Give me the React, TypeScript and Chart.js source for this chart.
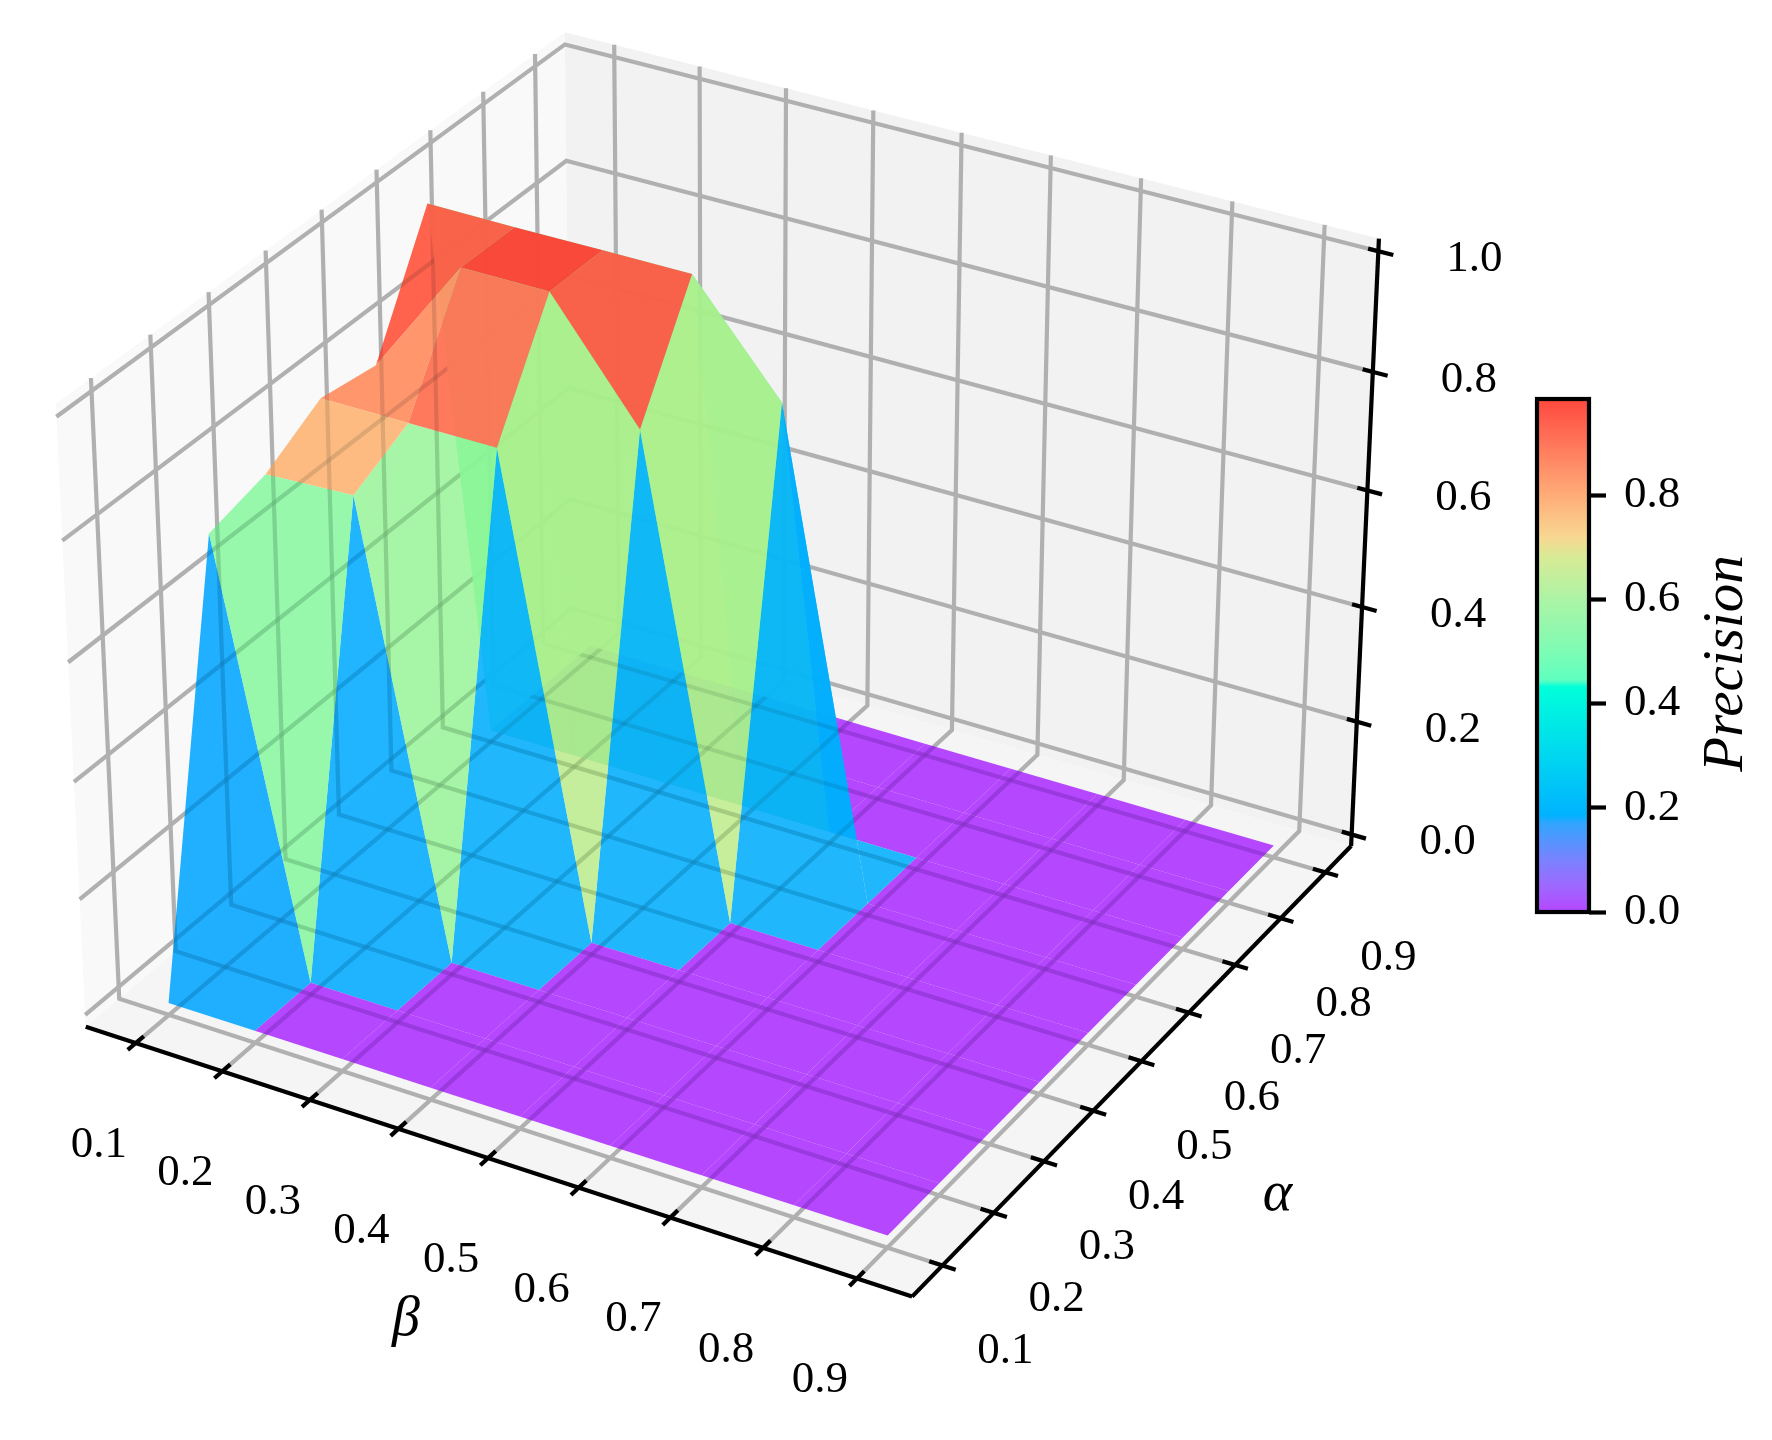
import React, { useEffect, useRef } from "react";
import { Chart, registerables } from "chart.js";

Chart.register(...registerables);

// ---------- data ----------
const betaValues = [0.1, 0.2, 0.3, 0.4, 0.5, 0.6, 0.7, 0.8, 0.9];
const alphaValues = [0.1, 0.2, 0.3, 0.4, 0.5, 0.6, 0.7, 0.8, 0.9];
const precisionAlpha1 = [0, 0, 0, 0, 0, 0, 0, 0, 0];
const precisionAlpha2 = [0.72, 0, 0, 0, 0, 0, 0, 0, 0];
const precisionAlpha3 = [0.745, 0.752, 0, 0, 0, 0, 0, 0, 0];
const precisionAlpha4 = [0.8, 0.8, 0.8, 0, 0, 0, 0, 0, 0];
const precisionAlpha5 = [0.785, 0.987, 0.987, 0.8, 0, 0, 0, 0, 0];
const precisionAlpha6 = [0.987, 0.986, 0.987, 0.987, 0.815, 0, 0, 0, 0];
const precisionAlpha7 = [0, 0, 0, 0, 0, 0, 0, 0, 0];
const precisionAlpha8 = [0, 0, 0, 0, 0, 0, 0, 0, 0];
const precisionAlpha9 = [0, 0, 0, 0, 0, 0, 0, 0, 0];
const precisionRows = [
  precisionAlpha1, precisionAlpha2, precisionAlpha3, precisionAlpha4, precisionAlpha5,
  precisionAlpha6, precisionAlpha7, precisionAlpha8, precisionAlpha9,
];
const betaTicks = [0.1, 0.2, 0.3, 0.4, 0.5, 0.6, 0.7, 0.8, 0.9];
const alphaTicks = [0.1, 0.2, 0.3, 0.4, 0.5, 0.6, 0.7, 0.8, 0.9];
const precisionTicks = [0, 0.2, 0.4, 0.6, 0.8, 1.0];
const colorbarMax = 0.985;
const colorStops: [number, number, number, number][] = [
  [0, 181, 71, 255],
  [0.05, 158, 104, 255],
  [0.1, 122, 130, 255],
  [0.17, 50, 165, 255],
  [0.185, 0, 178, 255],
  [0.3, 0, 215, 240],
  [0.432, 0, 255, 218],
  [0.445, 95, 255, 192],
  [0.5, 125, 252, 180],
  [0.6, 172, 244, 165],
  [0.68, 215, 235, 150],
  [0.72, 248, 215, 145],
  [0.8, 255, 172, 120],
  [0.9, 255, 118, 90],
  [0.985, 255, 72, 62],
];

// ---------- matplotlib style 3D projection (elev 30, azim -60, dist 10) ----------
const BETA_LIM = [0.0417, 0.9583];
const ALPHA_LIM = [0.0417, 0.9583];
const Z_LIM = [-0.0208, 1.0208];
const BOX = [1.1905, 1.1905, 0.8929];
const U = [0.866, 0.5, 0];
const V = [-0.25, 0.433, 0.866];
const W = [0.433, -0.75, 0.5];
const PX_SCALE = 7952;
const PX_ORIGIN = 730.1;
const PY_ORIGIN = 634;
const WIDTH = 1772;
const HEIGHT = 1440;
const LINE_W = 4.2;

const frac = (v: number, lim: number[]) => (v - lim[0]) / (lim[1] - lim[0]);
function rel(b: number, a: number, z: number) {
  return [
    (frac(b, BETA_LIM) - 0.5) * BOX[0],
    (frac(a, ALPHA_LIM) - 0.5) * BOX[1],
    (frac(z, Z_LIM) - 0.5) * BOX[2],
  ];
}
const dot = (p: number[], q: number[]) => p[0] * q[0] + p[1] * q[1] + p[2] * q[2];
function project(b: number, a: number, z: number) {
  const q = rel(b, a, z);
  const d = 10 - dot(W, q);
  return { x: dot(U, q) / d, y: dot(V, q) / d };
}
const depth = (b: number, a: number, z: number) => 10 - dot(W, rel(b, a, z));

function colorAt(v: number): number[] {
  const s = colorStops;
  if (v <= s[0][0]) return s[0].slice(1);
  for (let i = 1; i < s.length; i++) {
    if (v <= s[i][0]) {
      const t = (v - s[i - 1][0]) / (s[i][0] - s[i - 1][0]);
      return [1, 2, 3].map((k) => s[i - 1][k] + t * (s[i][k] - s[i - 1][k]));
    }
  }
  return s[s.length - 1].slice(1);
}
function cellColor(v: number) {
  const a = v < 0.3 ? 0.87 : v < 0.7 ? 0.8 : 0.95;
  const c = colorAt(v).map((ch) =>
    Math.max(0, Math.min(255, Math.round((ch - (1 - a) * 248) / a)))
  );
  return `rgba(${c[0]},${c[1]},${c[2]},${a})`;
}

type P3 = [number, number, number];

function buildDatasets() {
  const layers: any[] = [];
  const base = { pointRadius: 0, clip: false };
  const xy = (pts: P3[]) => pts.map((p) => project(p[0], p[1], p[2]));
  const poly = (pts: P3[], color: string, isCell = false) =>
    layers.push({ ...base, data: xy(pts), polyColor: color, isCell, showLine: false });
  const line = (pts: P3[], color: string, width: number) =>
    layers.push({ ...base, data: xy(pts), showLine: true, borderColor: color, borderWidth: width, tension: 0 });
  const shade = (pts: P3[]) =>
    layers.push({ ...base, data: xy(pts), shadeLine: true, showLine: false });

  const [bl, bh] = BETA_LIM;
  const [al, ah] = ALPHA_LIM;
  const [zl, zh] = Z_LIM;
  poly([[bl, al, zl], [bl, ah, zl], [bl, ah, zh], [bl, al, zh]], "#f9f9f9");
  poly([[bl, ah, zl], [bh, ah, zl], [bh, ah, zh], [bl, ah, zh]], "#f2f2f2");
  poly([[bl, al, zl], [bh, al, zl], [bh, ah, zl], [bl, ah, zl]], "#f5f5f5");

  const gridPaths: P3[][] = [
    ...betaTicks.map((b): P3[] => [[b, al, zl], [b, ah, zl], [b, ah, zh]]),
    ...alphaTicks.map((a): P3[] => [[bh, a, zl], [bl, a, zl], [bl, a, zh]]),
    ...precisionTicks.map((z): P3[] => [[bl, al, z], [bl, ah, z], [bh, ah, z]]),
  ];
  gridPaths.forEach((p) => line(p, "#b0b0b0", LINE_W));

  const cells: { d: number; pts: P3[]; v: number }[] = [];
  for (let j = 0; j < alphaValues.length - 1; j++) {
    for (let i = 0; i < betaValues.length - 1; i++) {
      const pts: P3[] = [
        [betaValues[i], alphaValues[j], precisionRows[j][i]],
        [betaValues[i + 1], alphaValues[j], precisionRows[j][i + 1]],
        [betaValues[i + 1], alphaValues[j + 1], precisionRows[j + 1][i + 1]],
        [betaValues[i], alphaValues[j + 1], precisionRows[j + 1][i]],
      ];
      const v = pts.reduce((acc, p) => acc + p[2], 0) / 4;
      const d = pts.reduce((acc, p) => acc + depth(p[0], p[1], p[2]), 0) / 4;
      cells.push({ d, pts, v });
    }
  }
  cells.sort((x, y) => y.d - x.d);
  cells.forEach((c) => poly(c.pts, cellColor(c.v), true));

  // the grid shows through the translucent surface
  gridPaths.forEach((p) => shade(p));

  const AXIS = "#000000";
  line([[bl, al, zl], [bh, al, zl]], AXIS, LINE_W);
  line([[bh, al, zl], [bh, ah, zl]], AXIS, LINE_W);
  line([[bh, ah, zl], [bh, ah, zh]], AXIS, LINE_W);
  betaTicks.forEach((b) => line([[b, al - 0.014, zl], [b, al + 0.014, zl]], AXIS, LINE_W));
  alphaTicks.forEach((a) => line([[bh - 0.014, a, zl], [bh + 0.014, a, zl]], AXIS, LINE_W));
  precisionTicks.forEach((z) => line([[bh - 0.011, ah, z], [bh + 0.016, ah, z]], AXIS, LINE_W));

  // The library draws the highest order first.
  return layers.map((l, k) => ({ ...l, order: layers.length - k }));
}

const polygonPlugin = {
  id: "polygons",
  beforeDatasetDraw(chart: any, args: any) {
    const ds = chart.data.datasets[args.index];
    const ctx = chart.ctx;
    const trace = (pts: any[]) =>
      pts.forEach((p: any, i: number) => (i ? ctx.lineTo(p.x, p.y) : ctx.moveTo(p.x, p.y)));
    if (ds.polyColor) {
      ctx.save();
      ctx.beginPath();
      trace(args.meta.data);
      ctx.closePath();
      ctx.fillStyle = ds.polyColor;
      ctx.fill();
      ctx.restore();
    } else if (ds.shadeLine) {
      ctx.save();
      ctx.beginPath();
      chart.data.datasets.forEach((other: any, i: number) => {
        if (other.isCell) {
          trace(chart.getDatasetMeta(i).data);
          ctx.closePath();
        }
      });
      ctx.clip("nonzero");
      ctx.beginPath();
      trace(args.meta.data);
      ctx.globalCompositeOperation = "multiply";
      ctx.strokeStyle = "rgb(228,232,232)";
      ctx.lineWidth = LINE_W;
      ctx.stroke();
      ctx.restore();
    }
  },
};

const labelPlugin = {
  id: "axisLabels",
  afterDraw(chart: any) {
    const { ctx, scales } = chart;
    const at = (b: number, a: number, z: number) => {
      const p = project(b, a, z);
      return [scales.x.getPixelForValue(p.x), scales.y.getPixelForValue(p.y)];
    };
    ctx.save();
    ctx.fillStyle = "#000";
    ctx.textAlign = "center";
    ctx.textBaseline = "middle";
    ctx.font = '45px "Liberation Serif"';
    betaTicks.forEach((b) => {
      const [x, y] = at(b, ALPHA_LIM[0], Z_LIM[0]);
      ctx.fillText(b.toFixed(1), x - 37, y + 102);
    });
    alphaTicks.forEach((a) => {
      const [x, y] = at(BETA_LIM[1], a, Z_LIM[0]);
      ctx.fillText(a.toFixed(1), x + 63, y + 86);
    });
    precisionTicks.forEach((z) => {
      const [x, y] = at(BETA_LIM[1], ALPHA_LIM[1], z);
      ctx.fillText(z.toFixed(1), x + 96, y + 8);
    });
    ctx.font = 'italic 56px "Liberation Serif"';
    const [bx, by] = at(0.5, ALPHA_LIM[0], Z_LIM[0]);
    ctx.fillText("\u03b2", bx - 82, by + 162);
    const [ax, ay] = at(BETA_LIM[1], 0.5, Z_LIM[0]);
    ctx.fillText("\u03b1", ax + 136, ay + 134);
    ctx.restore();
  },
};

const barFramePlugin = {
  id: "barFrame",
  afterDraw(chart: any) {
    const { ctx, chartArea: c } = chart;
    ctx.save();
    ctx.strokeStyle = "#000";
    ctx.lineWidth = LINE_W;
    ctx.strokeRect(c.left, c.top, c.right - c.left, c.bottom - c.top);
    ctx.translate(c.right + 138, (c.top + c.bottom) / 2 + 8);
    ctx.rotate(-Math.PI / 2);
    ctx.fillStyle = "#000";
    ctx.textAlign = "center";
    ctx.textBaseline = "middle";
    ctx.font = 'italic 57px "Liberation Serif"';
    ctx.fillText("Precision", 0, 0);
    ctx.restore();
  },
};

export default function App() {
  const mainRef = useRef<HTMLCanvasElement>(null);
  const barRef = useRef<HTMLCanvasElement>(null);

  useEffect(() => {
    const main = new Chart(mainRef.current as any, {
      type: "scatter",
      data: { datasets: buildDatasets() },
      plugins: [polygonPlugin, labelPlugin],
      options: {
        animation: false,
        responsive: false,
        devicePixelRatio: 1,
        layout: { padding: 0 },
        plugins: { legend: { display: false }, tooltip: { enabled: false } },
        events: [],
        scales: {
          x: { type: "linear", display: false, min: (0 - PX_ORIGIN) / PX_SCALE, max: (WIDTH - PX_ORIGIN) / PX_SCALE },
          y: { type: "linear", display: false, min: (PY_ORIGIN - HEIGHT) / PX_SCALE, max: PY_ORIGIN / PX_SCALE },
        },
      },
    } as any);

    const bar = new Chart(barRef.current as any, {
      type: "bar",
      data: {
        labels: ["Precision"],
        datasets: [
          {
            data: [[0, colorbarMax]],
            barPercentage: 1,
            categoryPercentage: 1,
            borderWidth: 0,
            backgroundColor: (c: any) => {
              const { chart } = c;
              const y = chart.scales.y;
              if (!chart.chartArea || !y) return "#888";
              const g = chart.ctx.createLinearGradient(0, y.getPixelForValue(0), 0, y.getPixelForValue(colorbarMax));
              colorStops.forEach((s) => g.addColorStop(Math.min(1, s[0] / colorbarMax), `rgb(${s[1]},${s[2]},${s[3]})`));
              return g;
            },
          },
        ],
      },
      plugins: [barFramePlugin],
      options: {
        animation: false,
        responsive: false,
        devicePixelRatio: 1,
        layout: { padding: { left: 37, top: 29, bottom: 28, right: 0 } },
        plugins: { legend: { display: false }, tooltip: { enabled: false } },
        events: [],
        scales: {
          x: { display: false },
          y: {
            position: "right",
            min: 0,
            max: colorbarMax,
            afterBuildTicks: (s: any) => {
              s.ticks = s.ticks.filter((t: any) => t.value < 0.9);
            },
            afterFit: (s: any) => {
              s.width = 183;
              s.paddingTop = 0;
              s.paddingBottom = 0;
            },
            border: { display: false },
            grid: { drawOnChartArea: false, tickLength: 17, tickWidth: LINE_W, tickColor: "#000" },
            ticks: {
              stepSize: 0.2,
              padding: 18,
              color: "#000",
              font: { family: "Liberation Serif", size: 45 },
              callback: (v: number) => Number(v).toFixed(1),
            },
          },
        },
      },
    } as any);

    return () => {
      main.destroy();
      bar.destroy();
    };
  }, []);

  return (
    <div style={{ position: "absolute", left: 0, top: 0, width: WIDTH, height: HEIGHT, background: "#fff", overflow: "hidden" }}>
      <canvas ref={mainRef} width={WIDTH} height={HEIGHT} style={{ position: "absolute", left: 0, top: 0 }} />
      <canvas ref={barRef} width={272} height={570} style={{ position: "absolute", left: 1500, top: 370 }} />
    </div>
  );
}
